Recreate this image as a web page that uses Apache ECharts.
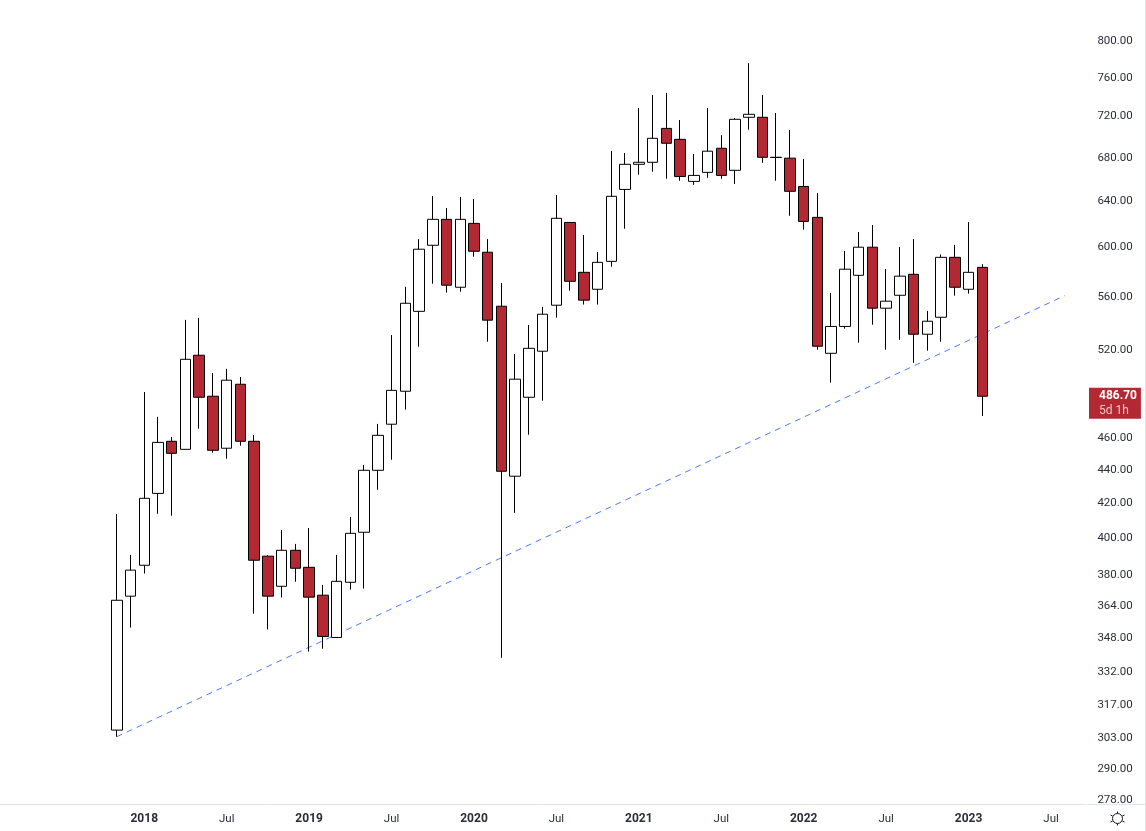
<!DOCTYPE html>
<html>
<head>
<meta charset="utf-8">
<script src="https://cdn.jsdelivr.net/npm/echarts@6/dist/echarts.min.js"></script>
<style>
	html, body { margin: 0; padding: 0; background: #fff; }
	#main { width: 1146px; height: 831px; }
</style>
</head>
<body>
<div id="main"></div>
<script type="text/javascript">
	// months on the axis, including the empty space left and right of the candles
	var months = [
		'2017-03', '2017-04', '2017-05', '2017-06', '2017-07', '2017-08', '2017-09', '2017-10', '2017-11', '2017-12',
		'2018-01', '2018-02', '2018-03', '2018-04', '2018-05', '2018-06', '2018-07', '2018-08', '2018-09', '2018-10', '2018-11', '2018-12',
		'2019-01', '2019-02', '2019-03', '2019-04', '2019-05', '2019-06', '2019-07', '2019-08', '2019-09', '2019-10', '2019-11', '2019-12',
		'2020-01', '2020-02', '2020-03', '2020-04', '2020-05', '2020-06', '2020-07', '2020-08', '2020-09', '2020-10', '2020-11', '2020-12',
		'2021-01', '2021-02', '2021-03', '2021-04', '2021-05', '2021-06', '2021-07', '2021-08', '2021-09', '2021-10', '2021-11', '2021-12',
		'2022-01', '2022-02', '2022-03', '2022-04', '2022-05', '2022-06', '2022-07', '2022-08', '2022-09', '2022-10', '2022-11', '2022-12',
		'2023-01', '2023-02', '2023-03', '2023-04', '2023-05', '2023-06', '2023-07', '2023-08', '2023-09'
	];
	var firstCandle = 8; // 2017-11

	var opens = [
		305.7, 368.4, 384.6, 425.1, 457.1, 452.0, 515.3, 486.7, 452.7, 494.9, 457.1, 389.5, 373.5, 392.7, 383.5, 368.9,
		347.8, 375.6, 402.7, 439.0, 468.1, 490.1, 547.8, 600.6, 622.7, 566.5, 619.2, 594.8, 551.7, 435.4, 486.0, 518.2,
		552.5, 620.0, 578.4, 564.9, 587.3, 649.2, 672.3, 674.2, 706.8, 696.1, 656.5, 664.8, 687.5, 666.7, 717.8, 717.8,
		678.9, 678.1, 651.9, 624.4, 516.7, 536.4, 576.0, 599.0, 550.2, 560.2, 576.8, 530.6, 543.3, 590.6, 564.9, 582.4
	];
	var closes = [
		366.3, 382.0, 422.2, 456.4, 449.5, 512.4, 486.0, 451.4, 497.7, 457.1, 387.3, 368.4, 392.7, 383.0, 367.9, 348.3,
		376.1, 402.1, 439.0, 460.9, 490.7, 554.0, 597.3, 622.7, 568.1, 622.7, 595.6, 541.1, 438.4, 498.4, 520.3, 545.6,
		623.6, 571.2, 556.4, 586.5, 643.0, 672.3, 674.2, 697.1, 692.3, 661.0, 662.0, 684.7, 662.0, 715.8, 720.8, 678.9,
		678.7, 647.5, 620.9, 521.8, 536.4, 580.9, 599.0, 550.2, 555.6, 575.3, 530.6, 540.3, 590.6, 566.5, 578.4, 486.7
	];
	var lows = [
		302.9, 352.6, 380.2, 413.2, 412.1, 452.0, 465.2, 449.9, 446.1, 454.3, 359.5, 351.7, 367.7, 375.9, 341.0, 342.4,
		347.8, 371.8, 372.3, 427.2, 445.5, 477.7, 521.5, 569.3, 562.3, 563.0, 591.1, 525.1, 338.1, 413.7, 461.3, 483.7,
		543.0, 563.8, 553.0, 553.0, 582.9, 614.6, 662.6, 665.4, 658.9, 657.1, 653.3, 659.8, 658.9, 654.2, 705.5, 673.7,
		657.1, 625.8, 613.8, 519.3, 496.0, 534.7, 524.4, 537.7, 519.3, 526.5, 509.9, 518.6, 525.1, 559.9, 561.5, 473.5
	];
	var highs = [
		413.0, 390.2, 489.6, 472.9, 459.8, 541.3, 542.8, 502.7, 505.6, 499.9, 461.1, 390.0, 404.0, 396.2, 405.1, 374.2,
		390.2, 411.3, 442.3, 468.3, 530.0, 566.8, 605.8, 643.3, 632.6, 642.4, 640.6, 605.8, 569.9, 516.2, 537.5, 551.2,
		644.2, 620.0, 609.3, 595.0, 684.9, 683.0, 727.2, 740.5, 742.6, 715.1, 682.1, 727.2, 700.2, 717.1, 774.1, 740.5,
		722.1, 705.2, 677.3, 645.9, 562.0, 595.9, 611.8, 617.8, 581.1, 599.2, 605.8, 548.1, 593.0, 600.9, 620.3, 585.0
	];

	var trendMonths = ['2017-11', '2023-08'];
	var trendValues = [302.9, 559.9];

	var yTicks = [278, 290, 303, 317, 332, 348, 364, 380, 400, 420, 440, 460, 480, 520, 560, 600, 640, 680, 720, 760, 800];
	var xTickMonths = ['2018-01', '2018-07', '2019-01', '2019-07', '2020-01', '2020-07', '2021-01', '2021-07', '2022-01', '2022-07', '2023-01', '2023-07'];
	var xTickLabels = ['2018', 'Jul', '2019', 'Jul', '2020', 'Jul', '2021', 'Jul', '2022', 'Jul', '2023', 'Jul'];

	var lastPrice = 486.7;
	var countdown = '5d 1h';

	var RED = '#b22833';
	var FONT = 'Roboto';
	var TEXT = '#2a2e39';
	var EDGE = '#e0e3eb';

	var candles = opens.map(function (o, i) {
		return [months[i + firstCandle], o, closes[i], lows[i], highs[i]];
	});

	var myChart = echarts.init(document.getElementById('main'), null, { renderer: 'canvas' });

	var option = {
		backgroundColor: '#fff',
		animation: false,
		textStyle: { fontFamily: FONT },
		grid: { left: -0.875, top: 0, width: 1086.25, height: 804 },
		xAxis: {
			type: 'category',
			data: months,
			axisLine: { lineStyle: { color: EDGE, width: 1 } },
			axisTick: { show: false },
			splitLine: { show: false },
			axisLabel: {
				margin: 9,
				interval: function (i, m) {
					return xTickMonths.indexOf(m) >= 0;
				},
				formatter: function (m) {
					var label = xTickLabels[xTickMonths.indexOf(m)];
					return label === 'Jul' ? '{m|Jul}' : '{y|' + label + '}';
				},
				rich: {
					y: { fontFamily: FONT, fontSize: 12, fontWeight: 'bold', color: TEXT },
					m: { fontFamily: FONT, fontSize: 11.5, color: TEXT }
				}
			}
		},
		yAxis: {
			type: 'log',
			logBase: 10,
			position: 'right',
			min: 275.8,
			max: 845.2,
			axisLine: { show: false },
			axisTick: { show: false },
			splitLine: { show: false },
			minorTick: { show: false },
			axisLabel: {
				customValues: yTicks,
				margin: 12,
				formatter: function (v) {
					return '{v|' + v.toFixed(2) + '}';
				},
				rich: {
					// pushed down a little so the text sits on the price
					v: { fontFamily: FONT, fontSize: 11.5, color: TEXT, padding: [3, 0, 0, 0] }
				}
			}
		},
		series: [
			{
				type: 'line',
				data: trendMonths.map(function (m, i) {
					return [m, trendValues[i]];
				}),
				symbol: 'none',
				z: 1,
				clip: false,
				lineStyle: { color: '#2962ff', width: 1, opacity: 0.85, type: [6, 5] }
			},
			{
				type: 'candlestick',
				data: candles,
				encode: { x: 0, y: [1, 2, 3, 4] },
				barWidth: 11,
				z: 2,
				itemStyle: {
					color: '#fff',
					color0: RED,
					borderColor: '#000',
					borderColor0: '#000',
					borderWidth: 1
				},
				// price tag on the scale, tied to the last close
				markPoint: {
					silent: true,
					animation: false,
					symbol: 'rect',
					symbolSize: 1,
					itemStyle: { color: 'transparent' },
					data: [{ coord: [months[months.length - 1], lastPrice] }],
					label: {
						position: 'right',
						distance: 0,
						offset: [10, 7],
						backgroundColor: RED,
						padding: [1, 4, 1, 10],
						formatter: function () {
							return '{p|' + lastPrice.toFixed(2) + '}\n{t|' + countdown + '}';
						},
						rich: {
							p: { fontFamily: FONT, fontSize: 12, fontWeight: 'bold', color: '#fff', lineHeight: 15 },
							t: { fontFamily: FONT, fontSize: 12, color: '#f0c4c7', lineHeight: 14 }
						}
					}
				}
			}
		],
		graphic: [
			{ type: 'line', silent: true, shape: { x1: 1087, y1: 804.5, x2: 1146, y2: 804.5 }, style: { stroke: EDGE, lineWidth: 1 } },
			{ type: 'line', silent: true, shape: { x1: 1145.5, y1: 0, x2: 1145.5, y2: 831 }, style: { stroke: EDGE, lineWidth: 1 } },
			// settings gear in the corner
			{ type: 'circle', silent: true, shape: { cx: 1117.5, cy: 818.5, r: 5 }, style: { fill: 'none', stroke: '#131722', lineWidth: 1 } },
			{ type: 'line', silent: true, shape: { x1: 1117.5, y1: 811.5, x2: 1117.5, y2: 813.5 }, style: { stroke: '#131722', lineWidth: 1 } },
			{ type: 'line', silent: true, shape: { x1: 1117.5, y1: 823.5, x2: 1117.5, y2: 825.5 }, style: { stroke: '#131722', lineWidth: 1 } },
			{ type: 'line', silent: true, shape: { x1: 1110.5, y1: 815, x2: 1112.7, y2: 816 }, style: { stroke: '#131722', lineWidth: 1 } },
			{ type: 'line', silent: true, shape: { x1: 1124.5, y1: 815, x2: 1122.3, y2: 816 }, style: { stroke: '#131722', lineWidth: 1 } },
			{ type: 'line', silent: true, shape: { x1: 1110.5, y1: 822, x2: 1112.7, y2: 821 }, style: { stroke: '#131722', lineWidth: 1 } },
			{ type: 'line', silent: true, shape: { x1: 1124.5, y1: 822, x2: 1122.3, y2: 821 }, style: { stroke: '#131722', lineWidth: 1 } }
		]
	};

	myChart.setOption(option);
</script>
</body>
</html>
